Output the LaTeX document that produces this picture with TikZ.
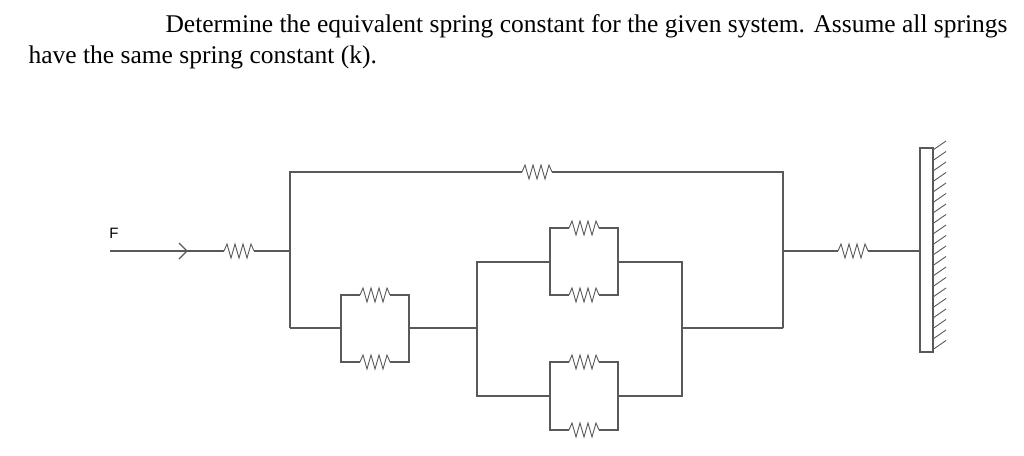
\documentclass[tikz,border=0pt]{standalone}
\usepackage{fontspec}
\setmainfont{Liberation Serif}
\newfontfamily\sansf{Liberation Sans}
\begin{document}
\begin{tikzpicture}[x=1pt,y=-1pt,line width=1.1pt,
  wire/.style={draw=black!65},
  spr/.pic={\draw[black!65,line width=0.9pt,line join=miter] (-15,0)--(-12,-7)--(-8,7)--(-4,-7)--(0,7)--(4,-7)--(8,7)--(12,-7)--(15,0);}]
\useasboundingbox (0,0) rectangle (1024,455);
\node[anchor=base west,inner sep=0,font=\fontsize{25.5}{28}\selectfont] (t1) at (165,32) {Determine the equivalent spring constant for the given system. Assume all springs};
\node[anchor=base west,inner sep=0,font=\fontsize{25.5}{28}\selectfont] (t2) at (28,63) {have the same spring constant (k).};
\node[font=\sansf\fontsize{15}{15}\selectfont,inner sep=0] (F) at (114,233) {F};
% coordinates
\coordinate (fs) at (110,251);
\coordinate (ar) at (187,251);
\coordinate (n1) at (290,251);
\coordinate (tl) at (290,172); \coordinate (tr) at (783,172);
\coordinate (bl) at (290,328); \coordinate (br) at (783,328);
\coordinate (n2) at (783,251);
\coordinate (w) at (920,251);
\draw[wire] (fs)--(n1);
\draw[black!65] (179,243)--(ar)--(179,259);
\draw[white,line width=2pt] (224,251)--(254,251);
\pic at (239,251) {spr};
\draw[wire] (bl)--(tl)--(tr)--(br)--(n2)--(w);
\fill[white] (522,168) rectangle (552,176); \pic at (537,172) {spr};
\fill[white] (838,247) rectangle (868,255); \pic at (853,251) {spr};
% box1
\coordinate (b1l) at (341,328); \coordinate (b1r) at (409,328);
\draw[wire] (bl)--(b1l);
\draw[wire] (341,295) rectangle (409,362);
\foreach \y in {295,362}{\fill[white] (360,\y-4) rectangle (390,\y+4); \pic at (375,\y) {spr};}
\coordinate (bbl) at (477,328); \coordinate (bbr) at (682,328);
\draw[wire] (b1r)--(bbl);
\draw[wire] (477,262) rectangle (682,396);
\draw[wire] (bbr)--(br);
\draw[wire,fill=white] (550,228) rectangle (618,295);
\draw[wire,fill=white] (550,362) rectangle (618,430);
\draw[white,line width=2pt] (551,262)--(617,262) (551,396)--(617,396);
\foreach \y in {228,295,362,430}{\fill[white] (569,\y-4) rectangle (599,\y+4); \pic at (584,\y) {spr};}
% wall
\draw[wire,fill=white] (920,148) rectangle (933,352);
\foreach \i in {0,...,19}{\draw[black!65,line width=0.9pt] (933,150+\i*10.5)--(946,141+\i*10.5);}
\end{tikzpicture}
\end{document}
